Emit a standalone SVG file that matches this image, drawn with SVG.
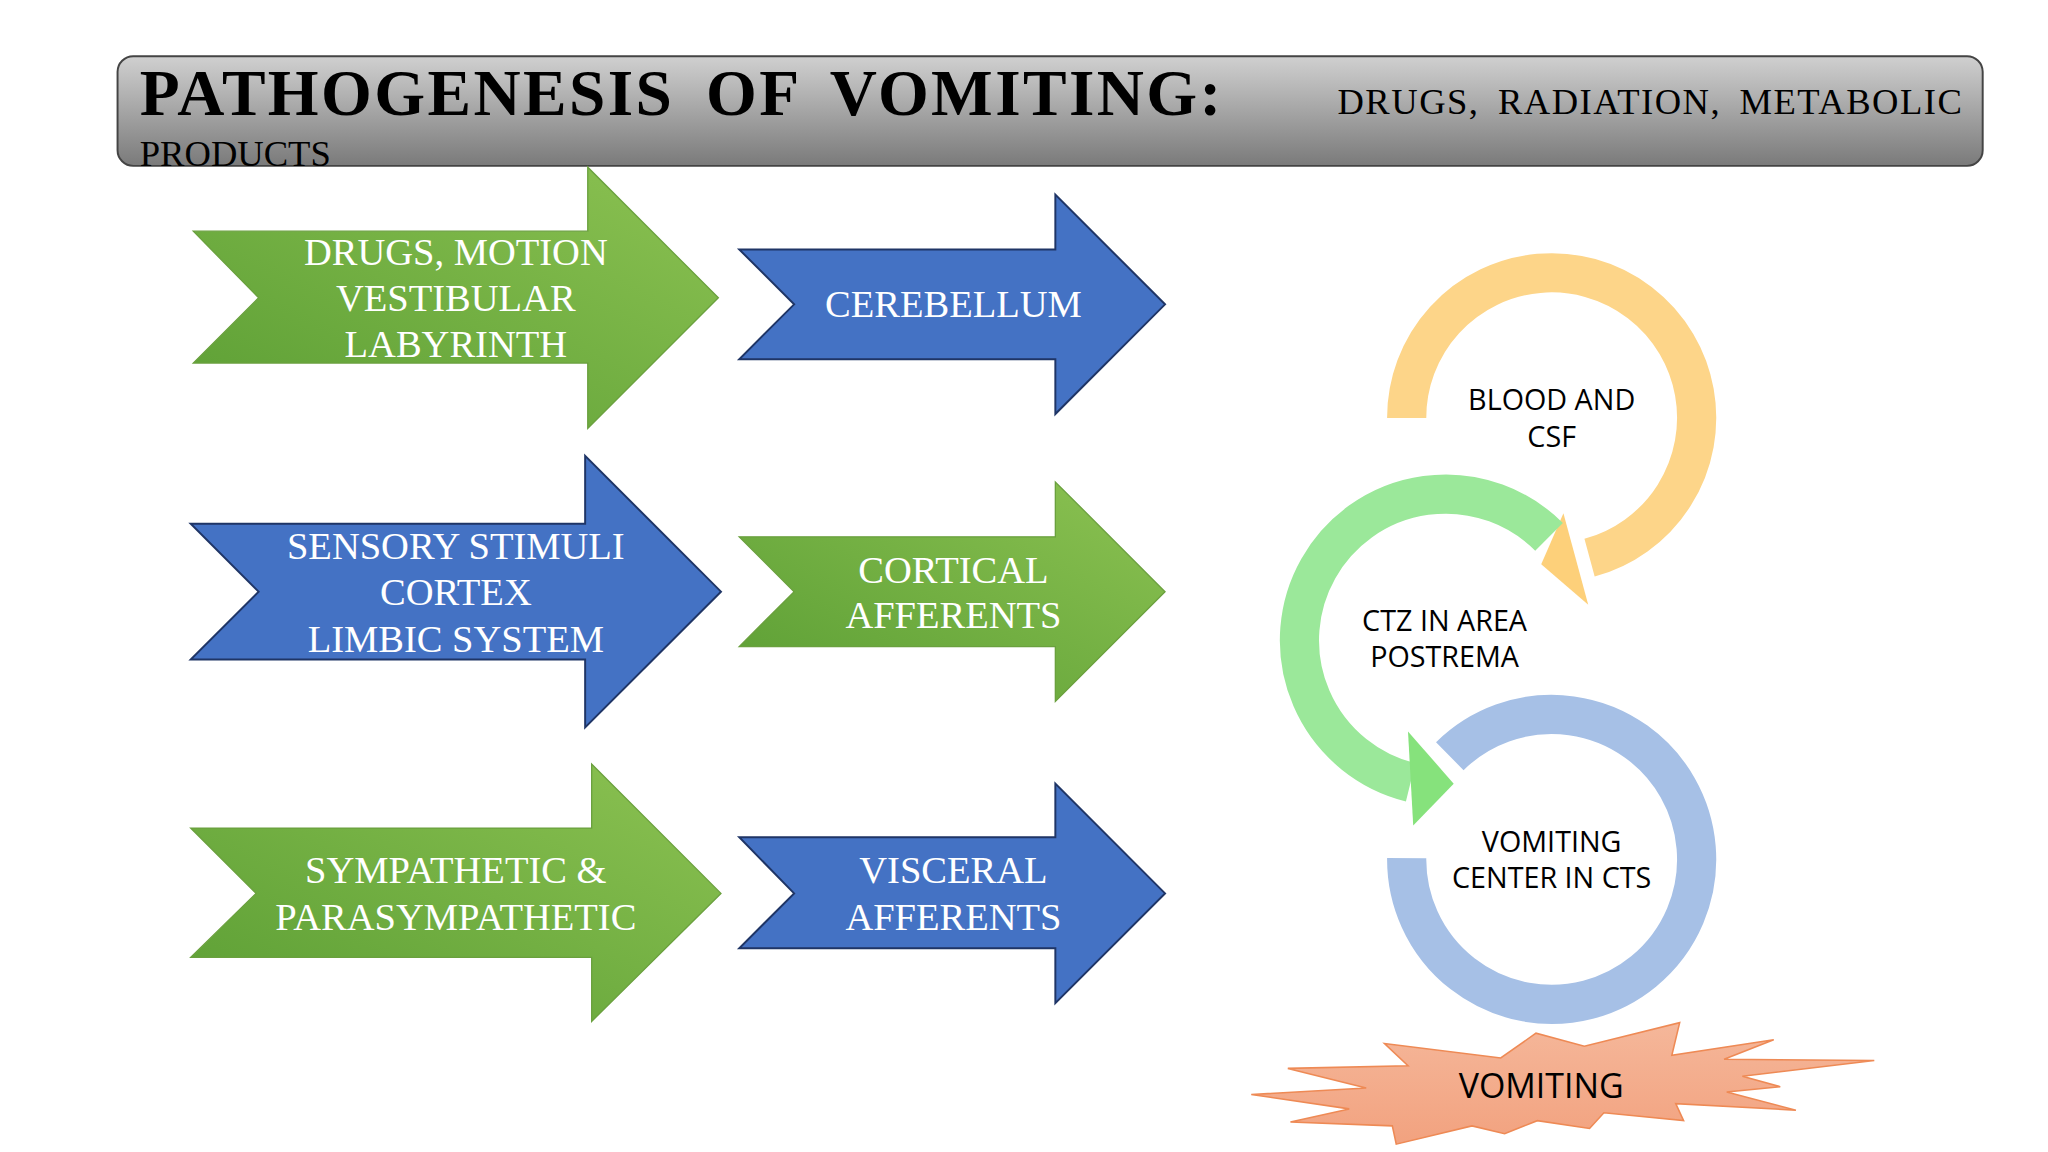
<svg xmlns="http://www.w3.org/2000/svg" width="2048" height="1152" viewBox="0 0 2048 1152">
<defs>
<linearGradient id="gt" x1="0" y1="0" x2="0" y2="1"><stop offset="0" stop-color="#d0d0d0"/><stop offset="1" stop-color="#7a7a7a"/></linearGradient>
<linearGradient id="gg" x1="1" y1="0" x2="0" y2="1"><stop offset="0" stop-color="#8cc252"/><stop offset="1" stop-color="#5b9e34"/></linearGradient>
<linearGradient id="gs" x1="0" y1="0" x2="0" y2="1"><stop offset="0" stop-color="#f5b79a"/><stop offset="1" stop-color="#f2a27f"/></linearGradient>
<style>
.g{fill:url(#gg);stroke:#6aa03e;stroke-width:1}
.b{fill:#4472c4;stroke:#1f3566;stroke-width:1.5}
.at{font-family:"Liberation Serif",serif;font-size:29.5px;fill:#fff;text-anchor:middle}
.ct{font-family:"Open Sans","Liberation Sans",sans-serif;font-size:22px;fill:#000;text-anchor:middle}
</style>
</defs>
<rect width="2048" height="1152" fill="#fff"/>
<g transform="scale(1.30612)">
<g id="title">
<rect x="90" y="43" width="1428" height="84" rx="12" fill="url(#gt)" stroke="#444" stroke-width="1.5"/>
<text x="107" y="88" font-family="Liberation Serif,serif" font-size="50" font-weight="bold" fill="#000" textLength="828" word-spacing="10">PATHOGENESIS OF VOMITING:</text>
<text x="1024" y="87" font-family="Liberation Serif,serif" font-size="28" fill="#000" textLength="478" word-spacing="6">DRUGS, RADIATION, METABOLIC</text>
<text x="107" y="127" font-family="Liberation Serif,serif" font-size="28" fill="#000">PRODUCTS</text>
</g>
<g id="a1"><polygon class="g" points="148,177 450,177 450,128 550,228 450,328 450,278 148,278 198,228"/>
<text class="at" x="349" y="203">DRUGS, MOTION</text><text class="at" x="349" y="238">VESTIBULAR</text><text class="at" x="349" y="273">LABYRINTH</text></g>
<g id="a2"><polygon class="b" points="566,191 808,191 808,149 892,233 808,317 808,275 566,275 608,233"/>
<text class="at" x="730" y="243">CEREBELLUM</text></g>
<g id="a3"><polygon class="b" points="146,401 448,401 448,349 552,453 448,557 448,505 146,505 198,453"/>
<text class="at" x="349" y="428">SENSORY STIMULI</text><text class="at" x="349" y="463">CORTEX</text><text class="at" x="349" y="499">LIMBIC SYSTEM</text></g>
<g id="a4"><polygon class="g" points="566,411 808,411 808,369 892,453 808,537 808,495 566,495 608,453"/>
<text class="at" x="730" y="446">CORTICAL</text><text class="at" x="730" y="481">AFFERENTS</text></g>
<g id="a5"><polygon class="g" points="146,634 453,634 453,585 552,684 453,782 453,733 146,733 196,684"/>
<text class="at" x="349" y="676">SYMPATHETIC &amp;</text><text class="at" x="349" y="712">PARASYMPATHETIC</text></g>
<g id="a6"><polygon class="b" points="566,641 808,641 808,600 892,684 808,768 808,726 566,726 608,684"/>
<text class="at" x="730" y="676">VISCERAL</text><text class="at" x="730" y="712">AFFERENTS</text></g>
<g id="cycle">
<path d="M1077,320 A111,111 0 1 1 1217,427" fill="none" stroke="#fdd589" stroke-width="30"/>
<polygon points="1180,432 1197,393 1216,463" fill="#fdd07a"/>
<path d="M1186,411 A112,112 0 1 0 1080,599" fill="none" stroke="#9be89a" stroke-width="30"/>
<polygon points="1113,600 1078,560 1082,632" fill="#86e27c"/>
<path d="M1110,579 A111,111 0 1 1 1077,657" fill="none" stroke="#a6c0e6" stroke-width="30"/>
<text class="ct" x="1188" y="314">BLOOD AND</text><text class="ct" x="1188" y="342">CSF</text>
<text class="ct" x="1106" y="483">CTZ IN AREA</text><text class="ct" x="1106" y="511">POSTREMA</text>
<text class="ct" x="1188" y="652">VOMITING</text><text class="ct" x="1188" y="680">CENTER IN CTS</text>
</g>
<g id="vomiting">
<polygon fill="url(#gs)" stroke="#ee8a55" stroke-width="1.2" points="958,838 1046,833 986,818 1078,816 1060,799 1149,810 1176,791 1213,801 1286,783 1280,808 1358,796 1320,811 1435,812 1334,824 1363,832 1322,836 1375,850 1283,845 1289,858 1228,852 1217,864 1177,858 1152,868 1127,862 1069,876 1066,862 988,859 1033,849"/>
<text x="1180" y="841" font-family="Open Sans,Liberation Sans,sans-serif" font-size="26" text-anchor="middle" fill="#000">VOMITING</text>
</g>
</g>
</svg>
